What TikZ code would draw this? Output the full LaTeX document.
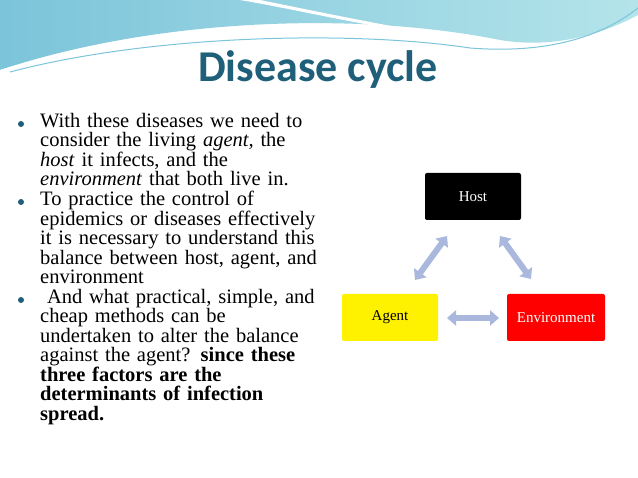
\documentclass[tikz,border=0pt]{standalone}
\usepackage{fontspec}
\setmainfont{Liberation Serif}
\newfontfamily\titlefont{Carlito}
\usetikzlibrary{arrows.meta}
\definecolor{teal1}{HTML}{1F5F7A}
\definecolor{wave1}{HTML}{7CC4DA}
\definecolor{wave2}{HTML}{B4E4EA}
\definecolor{arrowblue}{HTML}{A9B8DC}
\tikzset{
  box/.style={minimum width=96pt, minimum height=47pt, rounded corners=2pt, inner sep=2pt, font=\fontsize{15}{17}\selectfont},
  link/.style={draw=arrowblue, line width=6pt, -{Triangle[length=9pt,width=15pt]}, shorten <=0pt},
  both/.style={link, {Triangle[length=9pt,width=15pt]}-{Triangle[length=9pt,width=15pt]}},
  bullet/.style={circle, fill=teal1, inner sep=0pt, minimum size=6pt},
  bodytext/.style={anchor=north west, align=left, inner sep=0pt, text width=300pt, font=\fontsize{20.5}{19.5}\selectfont}
}
\begin{document}
\begin{tikzpicture}[x=1pt,y=-1pt]
\useasboundingbox (0,0) rectangle (638,478);
\fill[white] (0,0) rectangle (638,478);
% waves
\shade[left color=wave1, right color=wave2] (0,0) -- (0,70) .. controls (150,20) and (350,10) .. (500,40) .. controls (560,50) and (610,30) .. (638,15) -- (638,0) -- cycle;
\fill[white] (0,70) .. controls (150,25) and (350,15) .. (500,42) .. controls (560,52) and (610,32) .. (638,17) -- (638,22) .. controls (600,40) and (560,55) .. (500,48) .. controls (350,25) and (150,35) .. (0,72) -- cycle;
\fill[white] (240,0) .. controls (300,10) and (380,30) .. (470,40) .. controls (380,25) and (300,8) .. (260,0) -- cycle;
\draw[wave1, line width=1pt] (10,72) .. controls (150,35) and (350,30) .. (470,48) .. controls (560,55) and (610,30) .. (638,8);
% title
\node[font=\titlefont\bfseries\fontsize{44}{48}\selectfont, text=teal1] (title) at (318,70) {Disease cycle};
% bullets
\node[bullet] (b1) at (21,124) {};
\node[bullet] (b2) at (21,202) {};
\node[bullet] (b3) at (21,300) {};
\node[bodytext] (t1) at (40,113) {With these diseases we need to\\consider the living \textit{agent,} the\\\textit{host} it infects, and the\\\textit{environment} that both live in.};
\node[bodytext] (t2) at (40,191) {To practice the control of\\epidemics or diseases effectively\\it is necessary to understand this\\balance between host, agent, and\\environment};
\node[bodytext] (t3) at (40,289) {\ And what practical, simple, and\\cheap methods can be\\undertaken to alter the balance\\against the agent? \textbf{since these}\\\textbf{three factors are the}\\\textbf{determinants of infection}\\\textbf{spread.}};
% diagram
\node[box, fill=black, text=white] (host) at (473,196.5) {Host};
\node[box, fill=yellow, text=black] (agent) at (390,317.5) {Agent};
\node[box, fill=red, text=white, minimum width=98pt] (env) at (556,317.5) {Environment};
\coordinate (ha1) at (447,236);
\coordinate (ha2) at (415,280);
\coordinate (he1) at (500,236);
\coordinate (he2) at (531,279);
\coordinate (ae1) at (447,318);
\coordinate (ae2) at (499,318);
\draw[both] (ha1) -- (ha2);
\draw[both] (he1) -- (he2);
\draw[both] (ae1) -- (ae2);
\end{tikzpicture}
\end{document}
